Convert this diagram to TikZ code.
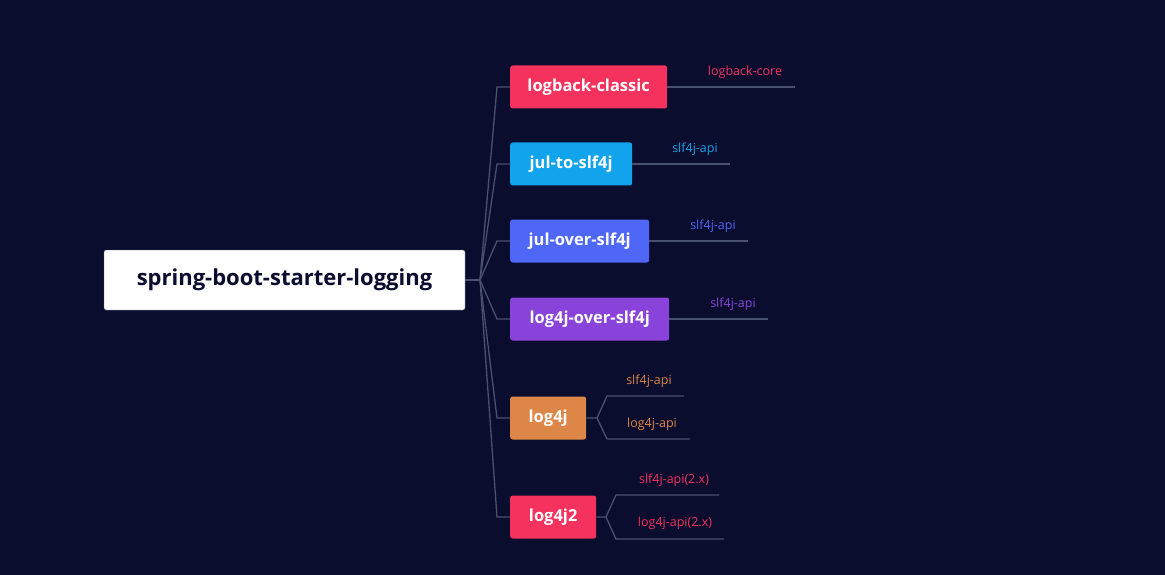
\documentclass[tikz,border=0pt]{standalone}
\usepackage{fontspec}
\setmainfont{Open Sans}
\definecolor{bg}{HTML}{0A0D2E}
\definecolor{ln}{HTML}{4A5070}
\definecolor{cred}{HTML}{F5315D}
\definecolor{ccyan}{HTML}{11A3EB}
\definecolor{cblue}{HTML}{4F67F7}
\definecolor{cpurp}{HTML}{8A43DA}
\definecolor{corng}{HTML}{DE8647}
\begin{document}
\begin{tikzpicture}[x=1pt,y=-1pt,
  kid/.style={anchor=west,rounded corners=2.5pt,minimum height=43pt,inner xsep=4pt,text=white,font=\bfseries\fontsize{16.5}{18}\selectfont},
  lbl/.style={font=\fontsize{12.5}{14}\selectfont},
  con/.style={draw=ln,line width=1.3pt}]
\fill[bg] (0,0) rectangle (1165,575);
\useasboundingbox (0,0) rectangle (1165,575);
\node[fill=white,draw=ln,rounded corners=2pt,minimum width=361pt,minimum height=60pt,text=bg,font=\bfseries\fontsize{22}{24}\selectfont] (root) at (284.5,280) {spring-boot-starter-logging};
\coordinate (hub) at (480,280);
\draw[con] (root.east) -- (hub);
\foreach \n/\y/\c/\w/\t in {a/87/cred/157/logback-classic,b/164/ccyan/122/jul-to-slf4j,c/241/cblue/139/jul-over-slf4j,d/319/cpurp/159/log4j-over-slf4j,e/418/corng/76/log4j,f/517/cred/86/log4j2}{
  \node[kid,fill=\c,minimum width=\w pt] (\n) at (510,\y) {\t};
  \draw[con] (hub) -- (497,\y) -- (\n.west);
}
\coordinate (ae) at (795,87); \draw[con] (a.east) -- (ae);
\node[lbl,text=cred] (al) at (745,72) {logback-core};
\coordinate (be) at (730,164); \draw[con] (b.east) -- (be);
\node[lbl,text=ccyan] (bl) at (695,149) {slf4j-api};
\coordinate (ce) at (748,241); \draw[con] (c.east) -- (ce);
\node[lbl,text=cblue] (cl) at (713,226) {slf4j-api};
\coordinate (de) at (768,319); \draw[con] (d.east) -- (de);
\node[lbl,text=cpurp] (dl) at (733,304) {slf4j-api};
\coordinate (eh) at (597,418);
\draw[con] (e.east) -- (eh) -- (607,396) -- (684,396);
\draw[con] (eh) -- (607,439) -- (690,439);
\node[lbl,text=corng] (el1) at (649,381) {slf4j-api};
\node[lbl,text=corng] (el2) at (652,424) {log4j-api};
\coordinate (fh) at (606,517);
\draw[con] (f.east) -- (fh) -- (616,495) -- (719,495);
\draw[con] (fh) -- (616,539) -- (724,539);
\node[lbl,text=cred] (fl1) at (674,480) {slf4j-api(2.x)};
\node[lbl,text=cred] (fl2) at (675,523) {log4j-api(2.x)};
\end{tikzpicture}
\end{document}
